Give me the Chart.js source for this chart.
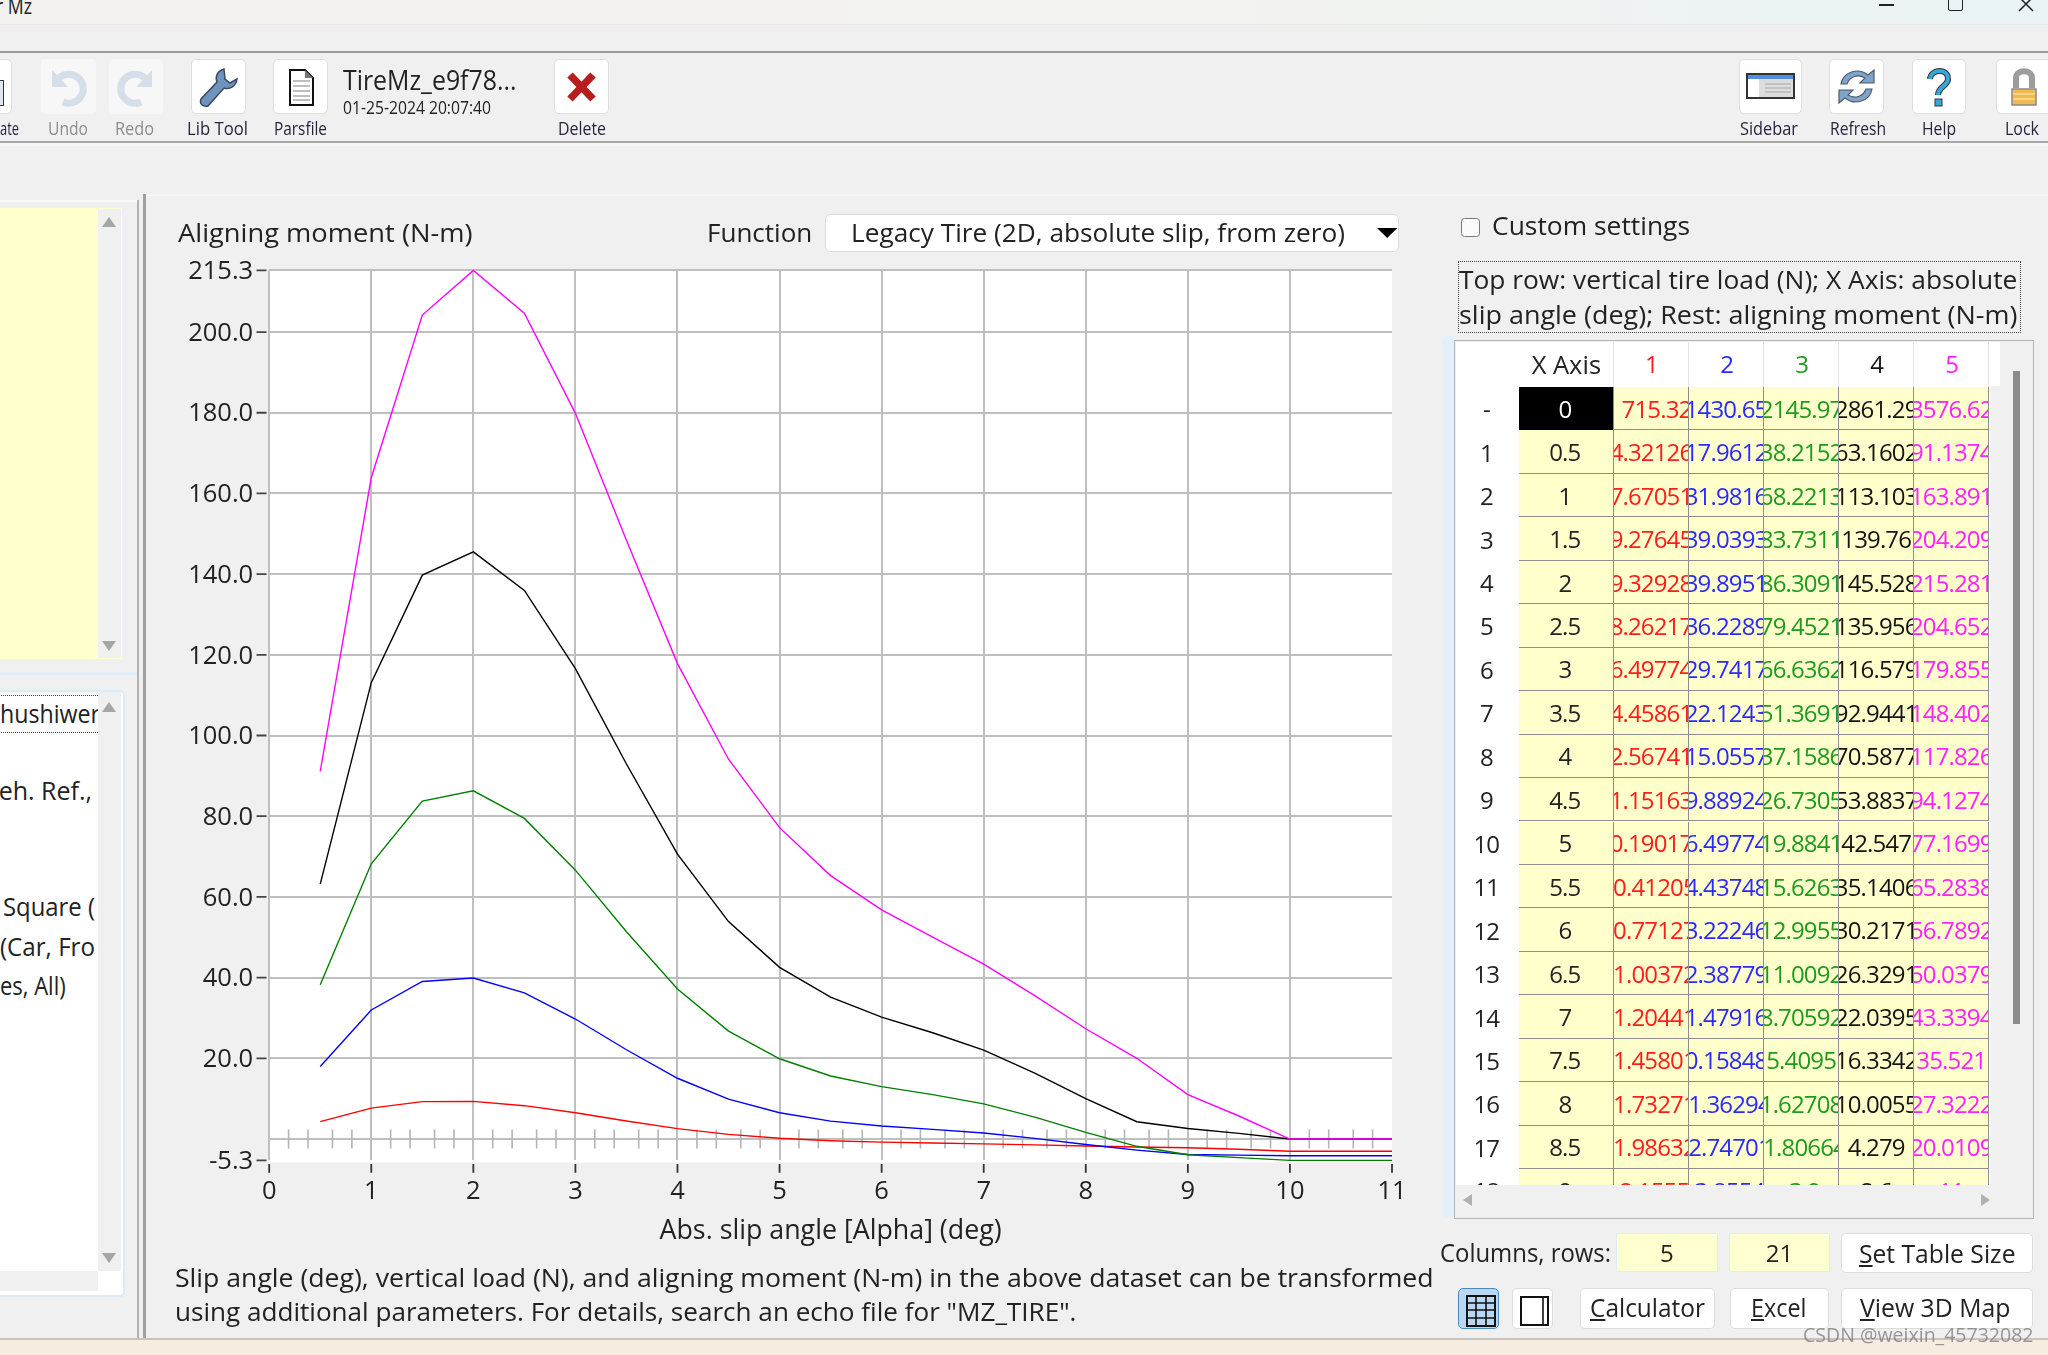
<!DOCTYPE html>
<html><head><meta charset="utf-8">
<script src="https://cdn.jsdelivr.net/npm/chart.js@4/dist/chart.umd.min.js"></script>
<style>
html,body{margin:0;padding:0;background:#f0f0f0;width:2048px;height:1355px;overflow:hidden}
#root{position:absolute;left:0;top:0;width:2048px;height:1355px;overflow:hidden;font-family:"Open Sans","Noto Sans",sans-serif;color:#222;filter:blur(.35px)}
.b{position:absolute;box-sizing:border-box}
.t{position:absolute;white-space:nowrap;transform-origin:left center}
.cell{position:absolute;box-sizing:border-box;display:flex;align-items:center;justify-content:center;overflow:hidden;white-space:nowrap;font-size:24px;letter-spacing:-.85px}
svg{position:absolute;overflow:visible}
canvas{position:absolute;left:150px;top:250px;filter:blur(.3px)}
</style></head><body><div id="root"></div>
<canvas id="c" width="1260" height="1000"></canvas>
<script>
// ---- chart data ----
const slipAngle = [0.5,1,1.5,2,2.5,3,3.5,4,4.5,5,5.5,6,6.5,7,7.5,8,8.5,9,9.5,10];
const holdAngle = 11;
const tireLoads = ["715.32","1430.65","2145.97","2861.29","3576.62"];
const moment715  = [4.32126,7.67051,9.27645,9.32928,8.26217,6.49774,4.45861,2.56741,1.15163,0.19017,-0.41205,-0.77127,-1.00372,-1.20441,-1.45801,-1.73271,-1.98632,-2.1555,-2.55,-3.05];
const moment1430 = [17.9612,31.9816,39.0393,39.8951,36.2289,29.7417,22.1243,15.0557,9.88924,6.49774,4.43748,3.22246,2.38779,1.47916,0.15848,-1.36294,-2.74701,-3.8554,-4.0,-4.15];
const moment2145 = [38.2152,68.2213,83.7311,86.3091,79.4521,66.6362,51.3691,37.1586,26.7305,19.8841,15.6263,12.9955,11.0092,8.70592,5.4095,1.62708,-1.80664,-3.9,-4.6,-5.3];
const moment2861 = [63.1602,113.103,139.76,145.528,135.956,116.579,92.9441,70.5877,53.8837,42.547,35.1406,30.2171,26.3291,22.0395,16.3342,10.0055,4.279,2.6,1.4,0];
const moment3576 = [91.1374,163.891,204.209,215.281,204.652,179.855,148.402,117.826,94.1274,77.1699,65.2838,56.7892,50.0379,43.3394,35.521,27.3222,20.0109,11.0,5.7,0];
const yTickValues = [-5.3,0,20,40,60,80,100,120,140,160,180,200,215.3];
const xWholeUnits = [0,1,2,3,4,5,6,7,8,9,10];
const minorFractions = [0.19,0.38,0.62,0.81];

const seriesList = [moment715,moment1430,moment2145,moment2861,moment3576];
const lineColors = ["#ff0000","#0000ff","#008000","#000000","#ff00ff"];
const textColors = ["#ff1c1c","#2a2aff","#1f9a1f","#141414","#ff22ff"];
const drawOrder = [5,3,2,4,1];

// ---- window chrome helpers ----
const root = document.getElementById('root');
function box(x,y,w,h,css,parent){const d=document.createElement('div');d.className='b';d.style.cssText=`left:${x}px;top:${y}px;width:${w}px;height:${h}px;${css||''}`;(parent||root).appendChild(d);return d;}
function T(text,cy,size,o){o=o||{};const d=document.createElement('div');d.className='t';d.innerHTML=text;const lh=size*1.3;
 d.style.cssText=`top:${cy-lh/2-1.2}px;line-height:${lh}px;font-size:${size}px;color:${o.color||'#222'};left:0`;
 (o.parent||root).appendChild(d);const nat=d.getBoundingClientRect().width;const sc=o.w?o.w/nat:1;const wid=nat*sc;
 let x=o.x; if(o.c!==undefined)x=o.c-wid/2; if(o.r!==undefined)x=o.r-wid; d.style.left=x+'px'; if(sc!==1)d.style.transform=`scaleX(${sc})`;return d;}
function icon(x,y,w,h,inner){const ns='http://www.w3.org/2000/svg';const s=document.createElementNS(ns,'svg');s.setAttribute('width',w);s.setAttribute('height',h);s.setAttribute('viewBox',`0 0 ${w} ${h}`);s.style.left=x+'px';s.style.top=y+'px';s.innerHTML=inner;root.appendChild(s);return s;}

// title bar
box(0,0,2048,24,'background:linear-gradient(90deg,#f3f2ef 0%,#f3f3f0 60%,#e9f3f5 100%)');
box(0,24,2048,1,'background:#e6e6e6');
T('r Mz',6,22,{x:-4,w:36,color:'#222'});
box(1879,4,15,1.5,'background:#222');
box(1948,-6,15,17,'border:1.5px solid #222;border-radius:2px');
icon(2019,0,15,11,'<path d="M0-3 L14 11 M14-3 L0 11" stroke="#222" stroke-width="1.5" fill="none"/>');
// toolbar rules
box(0,51,2048,2,'background:#9c9c9c');
box(0,141,2048,2,'background:#a8a8a8');
box(0,143,2048,3,'background:#f7f7f7');
box(146,194,1902,2,'background:#f7f7f7');

// toolbar buttons
[[-40,52],[191,55],[273,55],[554,55],[1739,63],[1829,55],[1912,54],[1996,70]].forEach(b=>box(b[0],59,b[1],55,'background:#fff;border:1.5px solid #dedede;border-radius:5px'));
[[41,55],[108.5,54]].forEach(b=>box(b[0],59,b[1],55,'background:#f7f7f7;border-radius:5px'));
const lab=(s,c,w,col)=>T(s,129.2,19,{c:c,w:w,color:col||'#2a2340'});
T('ate',129.2,19,{x:0,w:19,color:'#2a2340'});
lab('Undo',68,40,'#8c8c8c');lab('Redo',134,39,'#8c8c8c');lab('Lib Tool',217,61);lab('Parsfile',300,53);lab('Delete',582,48);
lab('Sidebar',1769,58);lab('Refresh',1857.7,56);lab('Help',1939,34);lab('Lock',2022,34);
T('TireMz_e9f78...',81,27,{x:343,w:173.5});
T('01-25-2024 20:07:40',108,18.5,{x:343,w:148});
// icons
box(0,80,4,26,'background:#dfe7f0;border:1.5px solid #333;border-left:none');
icon(51,68,36,38,'<path d="M8 10 A14.5 14.5 0 1 1 12 34" fill="none" stroke="#d4dfe9" stroke-width="7"/><path d="M1 2 L1 19 L17 19 Z" fill="#d4dfe9"/>');
icon(117,68,36,38,'<path d="M28 10 A14.5 14.5 0 1 0 24 34" fill="none" stroke="#d4dfe9" stroke-width="7"/><path d="M35 2 L35 19 L19 19 Z" fill="#d4dfe9"/>');
icon(200,68,38,39,'<path d="M24 1 C17 3 15 9 17 14 L1 31 C-1 36 3 39 8 38 L24 20 C30 22 36 18 37 11 L30 15 L25 11 Z" fill="#6f93bf" stroke="#3a4a60" stroke-width="1.5"/>');
icon(289,69,25,37,'<path d="M1 1 H16 L24 9 V36 H1 Z" fill="#fff" stroke="#111" stroke-width="2"/><path d="M16 1 V9 H24 Z" fill="#777"/><path d="M4 12 H21 M4 17 H21 M4 22 H21 M4 27 H21 M4 31 H21" stroke="#aaa" stroke-width="1.5"/>');
icon(566,72,31,30,'<path d="M4 3 L27 27 M27 3 L4 27" stroke="#b81c1c" stroke-width="7.5"/>');
icon(1746,73,49,26,'<rect x="1" y="1" width="47" height="24" fill="#ddd" stroke="#333" stroke-width="2"/><rect x="2" y="2" width="45" height="4" fill="#4d8fe0"/><rect x="2" y="6" width="11" height="18" fill="#fff"/><path d="M19 11 H45 M19 15 H45 M19 19 H45" stroke="#bbb" stroke-width="1.5"/>');
icon(1838,68,37,37,'<path d="M3 16 C5 4 20 -1 30 7 L36 2 V15 H22 L27 10 C20 6 12 8 9 16 Z M34 21 C32 33 17 38 7 30 L1 35 V22 H15 L10 27 C17 31 25 29 28 21 Z" fill="#7fa3c9" stroke="#4c5a68" stroke-width="1.2"/>');
icon(1926,68,26,38,'<path d="M4 11 C5 1 21 0 22 10 C23 18 12 18 12 27" fill="none" stroke="#333" stroke-width="6"/><path d="M4 11 C5 1 21 0 22 10 C23 18 12 18 12 27" fill="none" stroke="#35a8d8" stroke-width="4"/><rect x="9" y="31" width="7" height="7" fill="#35a8d8" stroke="#333" stroke-width="1"/>');
icon(2011,68,26,38,'<path d="M5 20 V10 C5 1 21 1 21 10 V20" fill="none" stroke="#9c9c9c" stroke-width="6"/><rect x="1" y="21" width="24" height="16" fill="#f2bb52" stroke="#8a8a8a" stroke-width="1.5"/><path d="M2 26 H24 M2 31 H24" stroke="#f9dd9c" stroke-width="1.5"/>');

// left panels
box(137,200,2,1138,'background:#b4b4b4');
box(143,194,2.5,1144,'background:#a0a0a0');
box(0,200,137,2,'background:#f8f8f8');
box(0,208,97,451,'background:#ffffce');
box(97,208,25,451,'background:#f0f0f0;border:1px solid #ffffce;border-left:1.5px solid #fffff0');
const tri=(cx,cy,up)=>icon(cx-7,cy-5,14,10,`<path d="${up?'M7 0 L14 10 H0 Z':'M0 0 H14 L7 10 Z'}" fill="#a6a6a6"/>`);
tri(108.5,222,true);tri(108.5,646,false);
box(0,672,137,3,'background:#e0effb');
box(-4,690,129,607,'background:#fff;border:2px solid #d9ecfc;border-radius:5px');
box(97.7,692,23,579,'background:#f0f0f0');
box(0,1271,97.7,20,'background:#f0f0f0');
tri(108.5,706.5,true);tri(108.5,1258,false);
const clip=box(0,692,97.7,579,'overflow:hidden');
box(-2,3,100,38,'border-top:1.5px dotted #444;border-bottom:1.5px dotted #444',clip);
T('hushiwer',23,25.5,{x:0,parent:clip,w:100});
T('Veh. Ref.,',99.6,25,{r:92,parent:clip});
T('Square (',215.6,25.5,{x:2.7,w:92,parent:clip});
T('(Car, Fro',256,25.5,{x:0,w:95,parent:clip});
T('es, All)',294.6,25.5,{x:0,w:65.7,parent:clip});

// chart headers
T('Aligning moment (N-m)',234,25.5,{x:177.7,w:294.6});
T('Function',234,25.5,{x:706.7,w:105.3});
box(825.4,214,573.6,38,'background:#fff;border:1.5px solid #dcdcdc;border-radius:5px');
T('Legacy Tire (2D, absolute slip, from zero)',234,25.5,{x:851,w:494});
icon(1376.6,228,20.4,10,'<path d="M0 0 H20.4 L10.2 10 Z" fill="#000"/>');
T('Slip angle (deg), vertical load (N), and aligning moment (N-m) in the above dataset can be transformed',1278.3,25.5,{x:175.4,w:1258.6});
T('using additional parameters. For details, search an echo file for "MZ_TIRE".',1312.7,25.5,{x:175.4,w:901.4});

// right panel header
box(1460.7,218,19.3,18.7,'background:#fbfbfb;border:1.5px solid #7a7a7a;border-radius:3.5px');
T('Custom settings',226.7,25.5,{x:1492,w:198});
box(1457.6,261,563.4,71.7,'border:1.5px dotted #444');
T('Top row: vertical tire load (N); X Axis: absolute',281,25.5,{x:1458.6,w:558.4});
T('slip angle (deg); Rest: aligning moment (N-m)',315.7,25.5,{x:1458.6,w:558.4});

// data table frame
box(1442.6,336,11,882,'background:#e2f0fc;border-radius:5px');
box(1454.4,340,579.6,879,'border:1.6px solid #b4b4b4;background:#f0f0f0');
box(1456,342,534,842.5,'background:#fff');
box(1989.3,342,10.7,44,'background:#fff');
box(2012.6,370.7,7.4,653,'background:#8c8c8c');
icon(1462.5,1194,9,12,'<path d="M9 0 V12 L0 6 Z" fill="#b0b0b0"/>');
icon(1981,1194,9,12,'<path d="M0 0 V12 L9 6 Z" fill="#b0b0b0"/>');

const tbl=box(1456,342,534,842.5,'overflow:hidden');
const ox=1456,oy=342,rowTop=387-oy,rowH=43.45,xAxisL=1518.7-ox,xAxisW=95.3,dataL=1614-ox,dataW=75.06;
const cell=(x,y,w,h,txt,css)=>{const c=document.createElement('div');c.className='cell';c.style.cssText=`left:${x}px;top:${y}px;width:${w}px;height:${h}px;${css}`;c.textContent=txt;tbl.appendChild(c);};
const line='border-right:1.8px solid #8e8e8e;border-bottom:1.8px solid #8e8e8e;background:#ffffcc;';
box(xAxisL,0,534-xAxisL,rowTop,'background:#fff',tbl);
cell(xAxisL,0,xAxisW,rowTop-2,'X Axis','color:#222;font-size:25.5px;letter-spacing:0;');
seriesList.forEach((s,i)=>cell(dataL+i*dataW,0,dataW,rowTop-2,String(i+1),`color:${textColors[i]};`));
[0,1,2,3,4,5].forEach(i=>box(dataL+i*dataW-1,0,1,rowTop,'background:#e4e4e4',tbl));
cell(0,rowTop,xAxisL-2,rowH,'-','color:#222;');
cell(xAxisL,rowTop,xAxisW,rowH,'0','background:#000;color:#fff;border-right:1.8px solid #8e8e8e;padding-right:2px;');
tireLoads.forEach((v,i)=>cell(dataL+i*dataW,rowTop,dataW,rowH,v,line+`color:${textColors[i]};`+(i===0?'padding-left:11px;':'')));
slipAngle.forEach((a,r)=>{const y=rowTop+(r+1)*rowH;
 cell(0,y,xAxisL-2,rowH,String(r+1),'color:#222;');
 cell(xAxisL,y,xAxisW,rowH,String(a),line+'color:#222;padding-right:2px;');
 seriesList.forEach((s,i)=>cell(dataL+i*dataW,y,dataW,rowH,String(s[r]),line+`color:${textColors[i]};`));
});

// bottom controls
T('Columns, rows:',1254,25.5,{x:1440,w:171});
[[1616,101.7,'5'],[1728.8,101.2,'21']].forEach(f=>{box(f[0],1233,f[1],39,'background:#ffffd0;border:1.5px solid #d8ecfa;border-radius:2px');T(f[2],1253.5,24,{c:f[0]+f[1]/2});});
[[1840.7,1233,192.3,40],[1579.8,1288,134.8,40.6],[1729.6,1288,99.4,40.6],[1840.7,1288,192.3,40.6],[1512,1288,41,40.6]].forEach(b=>box(b[0],b[1],b[2],b[3],'background:#fff;border:1.5px solid #dcdcdc;border-radius:5px'));
T('<u>S</u>et Table Size',1255,25.5,{x:1858.5,w:156.5});
T('<u>C</u>alculator',1309,25.5,{x:1589.6,w:115});
T('<u>E</u>xcel',1309,25.5,{x:1751,w:55.4});
T('<u>V</u>iew 3D Map',1309,25.5,{x:1859.6,w:150.4});
box(1457.6,1288,41.8,40.6,'background:#b9d7f2;border:1.5px solid #4a8ac0;border-radius:5px');
icon(1466,1295,30,32,'<rect x="1" y="1" width="28" height="30" fill="none" stroke="#111" stroke-width="2"/><path d="M1 8 H29 M1 15 H29 M1 23 H29 M10 1 V31 M20 1 V31" stroke="#111" stroke-width="1.6"/>');
icon(1520,1296,29,30,'<rect x="1" y="1" width="27" height="28" fill="#fff" stroke="#111" stroke-width="2"/><path d="M23 1 V29" stroke="#111" stroke-width="1.6"/>');
// bottom strip and watermark
box(0,1338,2048,1.5,'background:#c8c4bc');
box(0,1339.5,2048,16,'background:#f6ecdf');
T('CSDN @weixin_45732082',1336.5,20,{x:1802.5,w:230.5,color:'rgba(120,120,120,.75)'});

// ---- chart ----
const minorTickPoints = xWholeUnits.flatMap(u=>minorFractions.map(f=>({x:u+f,y:0})));
const gridGray='#bfbfbf';
const frame={id:'frame',
 afterLayout(ch){
  ch.scales.y.getLabelItems(ch.chartArea).forEach(it=>{it.options.translation=[it.options.translation[0],it.options.translation[1]+1.5];});
  ch.scales.x.getLabelItems(ch.chartArea).forEach(it=>{it.options.translation=[it.options.translation[0],it.options.translation[1]+1.3];});
 },
 beforeDraw(ch){const a=ch.chartArea,g=ch.ctx;g.save();g.fillStyle='#fff';g.fillRect(a.left,a.top,a.right-a.left,a.bottom-a.top+2);g.restore();},
 afterDraw(ch){const a=ch.chartArea,g=ch.ctx,xs=ch.scales.x,ys=ch.scales.y;g.save();g.strokeStyle='#333';g.lineWidth=1.8;g.beginPath();
  xs.ticks.forEach(t=>{const p=xs.getPixelForValue(t.value);g.moveTo(p,a.bottom+3.5);g.lineTo(p,a.bottom+12.3);});g.stroke();
  g.strokeStyle='#444';g.beginPath();
  ys.ticks.forEach(t=>{if(t.value===0)return;const p=ys.getPixelForValue(t.value);g.moveTo(a.left-12.7,p);g.lineTo(a.left-2.7,p);});g.stroke();g.restore();}};
new Chart(document.getElementById('c'),{
 type:'scatter',
 plugins:[frame],
 data:{datasets:[
  ...seriesList.map((s,i)=>({label:tireLoads[i],data:[...slipAngle.map((a,k)=>({x:a,y:s[k]})),{x:holdAngle,y:s[s.length-1]}],
    showLine:true,borderColor:lineColors[i],borderWidth:1.4,pointRadius:0,tension:0,order:drawOrder[i],clip:false})),
  {label:'ticks',data:minorTickPoints,showLine:false,pointStyle:'line',rotation:90,pointRadius:9.5,pointBorderColor:'#b4b4b4',pointBorderWidth:1.6,order:9}
 ]},
 options:{responsive:false,animation:false,devicePixelRatio:1,
  layout:{padding:{top:20.3,right:18,left:0,bottom:0}},
  plugins:{legend:{display:false},tooltip:{enabled:false},title:{display:false}},
  scales:{
   x:{type:'linear',min:0,max:11,border:{display:false},
    afterFit(s){s.height=89.6;s.paddingLeft=0;s.paddingRight=0;},
    grid:{drawTicks:false,lineWidth:2,color:c=>c.tick&&c.tick.value===11?'rgba(0,0,0,0)':gridGray},
    ticks:{stepSize:1,autoSkip:false,maxRotation:0,color:'#222',padding:15,font:{family:'"Open Sans"',size:25.5}},
    title:{display:true,text:'Abs. slip angle [Alpha] (deg)',color:'#222',font:{family:'"Open Sans"',size:26.8},padding:{top:6,bottom:2.5}}},
   y:{type:'linear',min:-5.3,max:215.3,border:{display:false},
    afterFit(s){s.width=119.2;s.paddingTop=0;s.paddingBottom=0;},
    afterBuildTicks(s){s.ticks=yTickValues.map(v=>({value:v}));},
    grid:{drawTicks:false,lineWidth:2,color:c=>c.tick&&c.tick.value===-5.3?'rgba(0,0,0,0)':gridGray},
    ticks:{autoSkip:false,color:'#222',padding:16,font:{family:'"Open Sans"',size:25.5},callback:v=>v===0?'':v.toFixed(1)}}
  }}
});
</script></body></html>
